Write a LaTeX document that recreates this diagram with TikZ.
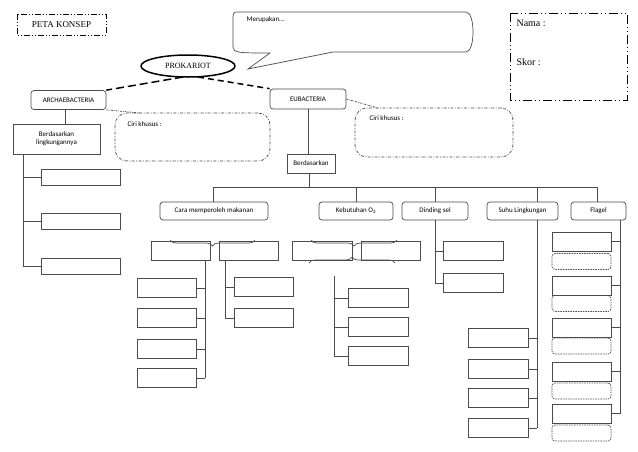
\documentclass[tikz,border=0pt]{standalone}
\usepackage{fontspec}
\setmainfont{Carlito}
\newfontfamily\serif{Liberation Serif}
\usetikzlibrary{shapes.geometric,decorations.pathreplacing}
\begin{document}
\begin{tikzpicture}[x=1pt,y=-1pt,
 ln/.style={draw=black!70,line width=0.7pt},
 rb/.style={ln,rounded corners=3pt},
 sb/.style={ln},
 db/.style={ln,dashed,dash pattern=on 1.5pt off 1pt,rounded corners=3pt},
 lbl/.style={font=\fontsize{7}{8}\selectfont},
 br/.style={ln,decorate,decoration={brace,amplitude=6pt}}]
\useasboundingbox (0,0) rectangle (638,451);
\fill[white] (0,0) rectangle (638,451);
% header boxes
\draw[line width=0.9pt,dash pattern=on 6pt off 2pt on 1pt off 2pt on 1pt off 2pt] (17,14) rectangle (106,35);
\node[font=\serif\fontsize{9}{10}\selectfont] (peta) at (61.5,24.5) {PETA KONSEP};
\draw[line width=0.9pt,dash pattern=on 9pt off 3pt on 1pt off 3pt on 1pt off 3pt] (510,13) rectangle (627,100);
\node[font=\serif\fontsize{10}{11}\selectfont,anchor=west] (nama) at (513,23) {Nama :};
\node[font=\serif\fontsize{10}{11}\selectfont,anchor=west] (skor) at (513,62) {Skor :};
% callout
\draw[ln] (270,53) -- (248,69) -- (333,52) -- (466,52) to[out=0,in=0,looseness=0.6] (466,12) -- (237,12) .. controls (233,12) and (233,14) .. (233,20) -- (233,47) .. controls (233,53) and (240,53) .. (270,53);
\node[lbl,anchor=west] (mer) at (243,20) {Merupakan...};
% main
\node[draw,line width=1.5pt,ellipse,minimum width=94pt,minimum height=22pt,font=\serif\fontsize{8}{9}\selectfont] (pro) at (188,66) {PROKARIOT};
\node[rb,lbl,minimum width=75pt,minimum height=19pt] (arc) at (68.5,100) {ARCHAEBACTERIA};
\node[rb,lbl,minimum width=76pt,minimum height=20pt] (eub) at (308,99) {EUBACTERIA};
\draw[line width=1.5pt,dash pattern=on 8pt off 4pt] (183,77) -- (arc.north east);
\draw[line width=1.5pt,dash pattern=on 6pt off 4pt] (198,77) -- (eub.north west);
% ciri khusus
\node[draw=black!70,line width=0.7pt,dash pattern=on 3pt off 1.5pt on 0.8pt off 1.5pt,rounded corners=12pt,minimum width=155pt,minimum height=48pt] (ck1) at (192.5,137) {};
\node[lbl,anchor=west] (ck1t) at (124,124) {Ciri khusus :};
\node[draw=black!70,line width=0.7pt,dash pattern=on 3pt off 1.5pt on 0.8pt off 1.5pt,rounded corners=12pt,minimum width=158pt,minimum height=49pt] (ck2) at (434,132.5) {};
\node[lbl,anchor=west] (ck2t) at (366,118) {Ciri khusus :};
\coordinate (c1) at (140,113);
\coordinate (c2) at (378,108);
\draw[ln,dash pattern=on 2pt off 1pt on 0.6pt off 1pt] (arc.south east) -- (c1);
\draw[ln,dash pattern=on 2pt off 1pt on 0.6pt off 1pt] (eub.east) -- (c2);
% archae branch
\node[sb,lbl,minimum width=87pt,minimum height=30pt,align=center] (ling) at (56.5,139) {Berdasarkan\\lingkungannya};
\draw[ln] (arc.south -| 65,0) -- (ling.north -| 65,0);
\foreach \y [count=\i] in {177,221,266}{
 \node[sb,minimum width=79pt,minimum height=16pt] (a\i) at (80.5,\y) {};
 \draw[ln] (23,\y) -- (a\i.west);}
\draw[ln] (23,154) -- (23,266);
% eubacteria
\node[sb,lbl,minimum width=48pt,minimum height=19pt] (ber) at (311,163.5) {Berdasarkan};
\draw[ln] (eub.south) -- (eub.south |- ber.north);
\draw[ln] (ber.south -| 309,0) -- (309,187);
\draw[ln] (213,187) -- (597,187);
\node[rb,lbl,minimum width=108pt,minimum height=18pt] (cara) at (214,211) {Cara memperoleh makanan};
\node[rb,lbl,minimum width=74pt,minimum height=18pt] (keb) at (356,211) {Kebutuhan O\textsubscript{2}};
\node[rb,lbl,minimum width=66pt,minimum height=18pt] (din) at (435,211) {Dinding sel};
\node[rb,lbl,minimum width=71pt,minimum height=18pt] (suhu) at (522.5,211) {Suhu Lingkungan};
\node[rb,lbl,minimum width=55pt,minimum height=18pt] (fla) at (598.5,211) {Flagel};
\foreach \n/\x in {cara/213,keb/356,din/435,suhu/537,fla/597} \draw[ln] (\x,187) -- (\n.north -| \x,0);
% cara
\draw[br] (255,240) -- (170,240);
\node[sb,minimum width=59pt,minimum height=19pt] (m1) at (180.5,250.5) {};
\node[sb,minimum width=59pt,minimum height=19pt] (m2) at (248.5,250.5) {};
\foreach \y [count=\i] in {288,318,349,378}{
 \node[sb,minimum width=59pt,minimum height=19pt] (ma\i) at (166.5,\y) {};
 \draw[ln] (ma\i.east) -- (205,\y);}
\draw[ln] (m1.south -| 205,0) -- (205,378);
\foreach \y [count=\i] in {287,318}{
 \node[sb,minimum width=59pt,minimum height=19pt] (mb\i) at (263.5,\y) {};
 \draw[ln] (225,\y) -- (mb\i.west);}
\draw[ln] (m2.south -| 225,0) -- (225,318);
% kebutuhan
\draw[br] (397,240) -- (311,240);
\node[sb,minimum width=60pt,minimum height=19pt] (k1) at (322,250.5) {};
\node[sb,minimum width=59pt,minimum height=19pt] (k2) at (390.5,250.5) {};
\draw[br] (309,263) -- (395,263) node[coordinate,pos=0.3] (kb) {};
\foreach \y [count=\i] in {298,327,356}{
 \node[sb,minimum width=60pt,minimum height=19pt] (kc\i) at (378,\y) {};
 \draw[ln] (334,\y) -- (kc\i.west);}
\draw[ln] (334,276) -- (334,356);
% dinding
\foreach \y [count=\i] in {251,283}{
 \node[sb,minimum width=60pt,minimum height=19pt] (d\i) at (473,\y) {};
 \draw[ln] (435,\y) -- (d\i.west);}
\draw[ln] (din.south) -- (435,283);
% suhu
\foreach \y [count=\i] in {338,369,398,428}{
 \node[sb,minimum width=60pt,minimum height=19pt] (s\i) at (498,\y) {};
 \draw[ln] (s\i.east) -- (537,\y);}
\draw[ln] (suhu.south -| 537,0) -- (537,428);
% flagel
\foreach \y/\z [count=\i] in {241.5/261.5,285.5/303.5,327.5/346,371.5/391,413.5/433}{
 \node[sb,minimum width=59pt,minimum height=19pt] (f\i) at (581.5,\y) {};
 \node[db,minimum width=59pt,minimum height=16pt] (fd\i) at (581.5,\z) {};
 \draw[ln] (f\i.east) -- (620,\y);}
\draw[ln] (fla.south -| 620,0) -- (620,413.5);
\end{tikzpicture}
\end{document}
